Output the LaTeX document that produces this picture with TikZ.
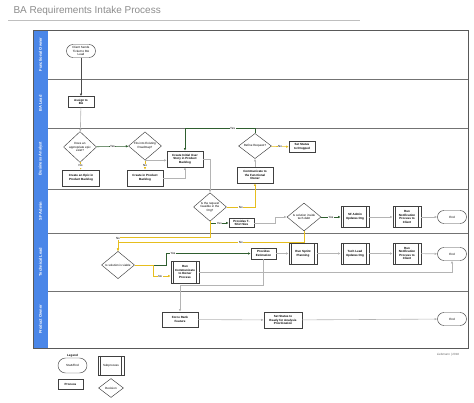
\documentclass[tikz,border=0pt]{standalone}
\usepackage{fontspec}
\setmainfont{Liberation Sans}
\usetikzlibrary{shapes.geometric, arrows.meta, positioning, calc}

\definecolor{laneblue}{HTML}{4A86E8}
\definecolor{yesgreen}{HTML}{2F5F2F}
\definecolor{nogold}{HTML}{E6BE1E}
\definecolor{linegray}{HTML}{B4B4B4}
\definecolor{titlegray}{HTML}{8C8C8C}

\tikzset{
	shapebase/.style={draw=black!75, fill=white, line width=0.45pt, align=center, inner sep=0.5pt, font=\fontsize{3}{3.6}\selectfont\bfseries},
	process/.style={shapebase, minimum width=#1, minimum height=11},
	process/.default=26,
	subproc/.style={shapebase, minimum width=28, minimum height=21,
		path picture={
			\draw[black!75, line width=0.4pt] ([xshift=2.5pt]path picture bounding box.north west) -- ([xshift=2.5pt]path picture bounding box.south west);
			\draw[black!75, line width=0.4pt] ([xshift=-2.5pt]path picture bounding box.north east) -- ([xshift=-2.5pt]path picture bounding box.south east);
		}},
	terminal/.style={shapebase, font=\fontsize{3}{3.6}\selectfont, minimum width=29, minimum height=13, rounded corners=6.5pt},
	decision/.style={shapebase, font=\fontsize{3}{3.6}\selectfont, diamond, minimum width=33, minimum height=23, inner sep=0pt},
	flow/.style={draw=linegray, line width=0.6pt, -{Latex[length=2.6pt, width=2.4pt]}},
	yesflow/.style={flow, draw=yesgreen},
	noflow/.style={flow, draw=nogold},
	lbl/.style={fill=white, inner sep=0.5pt, font=\fontsize{3}{3.6}\selectfont},
	lanetext/.style={text=white, font=\fontsize{4}{4.8}\selectfont\bfseries}
}

\begin{document}
\begin{tikzpicture}[x=1pt, y=-1pt]
	\useasboundingbox (0,0) rectangle (474,403);

	% title
	\node[anchor=west, text=titlegray, font=\fontsize{10}{12}\selectfont] (title) at (10,11) {BA Requirements Intake Process};
	\draw[black!25, line width=0.5pt] (8,20) -- (360,20);

	% swim lanes
	\foreach \name/\top/\bot in {
		Functional Owner/30/79,
		BA Lead/79/128,
		Business Analyst/128/189,
		SF Admin/189/233,
		Technical Lead/233/291,
		Product Owner/291/348%
	} {
		\fill[laneblue] (33,\top) rectangle (48,\bot);
		\node[lanetext, rotate=90] at (40.5,{(\top+\bot)/2}) {\name};
		\draw[black!55, line width=0.6pt] (33,\bot) -- (468,\bot);
	}
	\draw[black!65, line width=0.7pt] (33,30) rectangle (468,348);

	% Functional Owner / BA Lead
	\node[terminal] (start) at (81,51) {Client Sends\\Ticket to BA\\Lead};
	\node[process] (assign) at (81,102) {Assign to\\BA};

	% Business Analyst
	\node[decision] (epicq) at (80,147) {Does an\\appropriate epic\\exist?};
	\node[process=37, minimum height=16] (newepic) at (81,178) {Create an Epic in\\Product Backlog};
	\node[decision] (roadmapq) at (145,146) {Fits into Existing\\Roadmap?};
	\node[process=36, minimum height=16] (backlog) at (145,178) {Create in Product\\Backlog};
	\node[process=36, minimum height=16] (story) at (185,159) {Create Initial User\\Story in Product\\Backlog};
	\node[decision] (refineq) at (255,146) {Refine Request?};
	\node[process] (dropped) at (302,147) {Set Status\\to Dropped};
	\node[process=36, minimum height=16] (communicate) at (255,175) {Communicate to\\the Functional\\Owner};

	% SF Admin
	\node[decision] (feasibleq) at (210,207) {Is the request\\feasible in the\\Org?};
	\node[process=25, minimum height=9] (tshirt) at (241.5,223) {Provides T-\\Shirt Size};
	\node[decision, minimum width=34, minimum height=25] (techdebtq) at (304,217) {Is solution inside\\tech debt};
	\node[subproc] (sfupdate) at (355,217) {SF Admin\\Updates Org};
	\node[subproc] (sfnotify) at (407,217) {Run\\Notification\\Process to\\Client};
	\node[terminal] (sfend) at (452,217) {End};

	% Technical Lead
	\node[decision, minimum height=25] (viableq) at (118,265) {Is solution is viable};
	\node[subproc, minimum height=22] (ownerproc) at (185,272) {Run\\Communicate\\to Owner\\Process};
	\node[process=25] (estimate) at (263.5,253.5) {Provides\\Estimation};
	\node[subproc] (sprint) at (303,253.5) {Run Sprint\\Planning};
	\node[subproc] (tlupdate) at (355,253.5) {Tech Lead\\Updates Org};
	\node[subproc] (tlnotify) at (407,253.5) {Run\\Notification\\Process to\\Client};
	\node[terminal] (tlend) at (452,254) {End};

	% Product Owner
	\node[process=36, minimum height=15] (forcerank) at (180,319.5) {Force Rank\\Feature};
	\node[process=38, minimum height=16] (ready) at (283,320) {Set Status to\\Ready for Analysis\\Prioritization};
	\node[terminal] (poend) at (452,319) {End};

	% connectors
	\draw[flow, draw=black!70] (start) -- (assign);
	\draw[flow] (assign) -- (epicq);
	\draw[noflow] (epicq) -- node[lbl]{No} (newepic);
	\draw[yesflow] (epicq) -- node[lbl]{Yes} (roadmapq);
	\draw[noflow] (roadmapq) -- node[lbl]{No} (backlog);
	\draw[flow] (roadmapq.south) -- (roadmapq.south -| story.west);
	\draw[flow] (backlog.east) -| (story.south);
	\draw[flow] (story.east) -| (feasibleq.north);
	\draw[yesflow] (refineq.north) -- ++(0,-4.5) -| node[lbl, pos=0.16]{Yes} (story.north);
	\draw[noflow] (refineq) -- node[lbl]{No} (dropped);
	\draw[flow] (communicate) -- (refineq);
	\draw[noflow] (feasibleq.east) -| node[lbl, pos=0.25]{No} (communicate.south);
	\draw[yesflow] (feasibleq.south) |- node[lbl, pos=0.75]{Yes} (tshirt.west);
	\draw[noflow] (feasibleq.south) -- ++(0,15.5) -| node[lbl, pos=0.56]{No} (viableq.north);
	\draw[flow] (tshirt.east) -- ++(21,0) |- (techdebtq.west);
	\draw[yesflow] (techdebtq) -- node[lbl]{Yes} (sfupdate);
	\draw[noflow] (techdebtq.south) -- ++(0,11.5) -| node[lbl, pos=0.17]{No} (viableq.north);
	\draw[flow] (sfupdate) -- (sfnotify);
	\draw[flow] (sfnotify) -- (sfend);

	\draw[yesflow] (viableq.east) -- ++(31.5,0) |- node[lbl, pos=0.54]{Yes} (estimate.west);
	\draw[noflow] (viableq.east) -- ++(18.5,0) |- node[lbl, pos=0.7]{No} ([yshift=-4pt]ownerproc.west);
	\draw[flow] (ownerproc.east) -| (tlend.south);
	\draw[flow] (estimate) -- (sprint);
	\draw[flow] (sprint) -- (tlupdate);
	\draw[flow] (tlupdate) -- (tlnotify);
	\draw[flow] (tlnotify) -- (tlend);
	\draw[flow] (estimate.south) -- ++(0,26) -| (forcerank.north);

	\draw[flow] (forcerank) -- (ready);
	\draw[flow] (ready) -- (poend);

	% legend
	\node[font=\fontsize{3}{3.6}\selectfont\bfseries] (legend) at (72.5,355.5) {Legend};
	\node[terminal, minimum height=15, rounded corners=7.5pt] (lgterm) at (72.5,365.5) {Start/End};
	\node[process=25, minimum height=10] (lgproc) at (70.5,384) {Process};
	\node[subproc, minimum width=26, minimum height=19, font=\fontsize{3}{3.6}\selectfont] (lgsub) at (111,365.5) {Subprocess};
	\node[decision, minimum width=25, minimum height=19] (lgdec) at (111,388) {Decision};

	% footer
	\node[text=black!60, font=\fontsize{3}{3.6}\selectfont] (footer) at (448,355) {Liebmann | 2018};
\end{tikzpicture}
\end{document}
